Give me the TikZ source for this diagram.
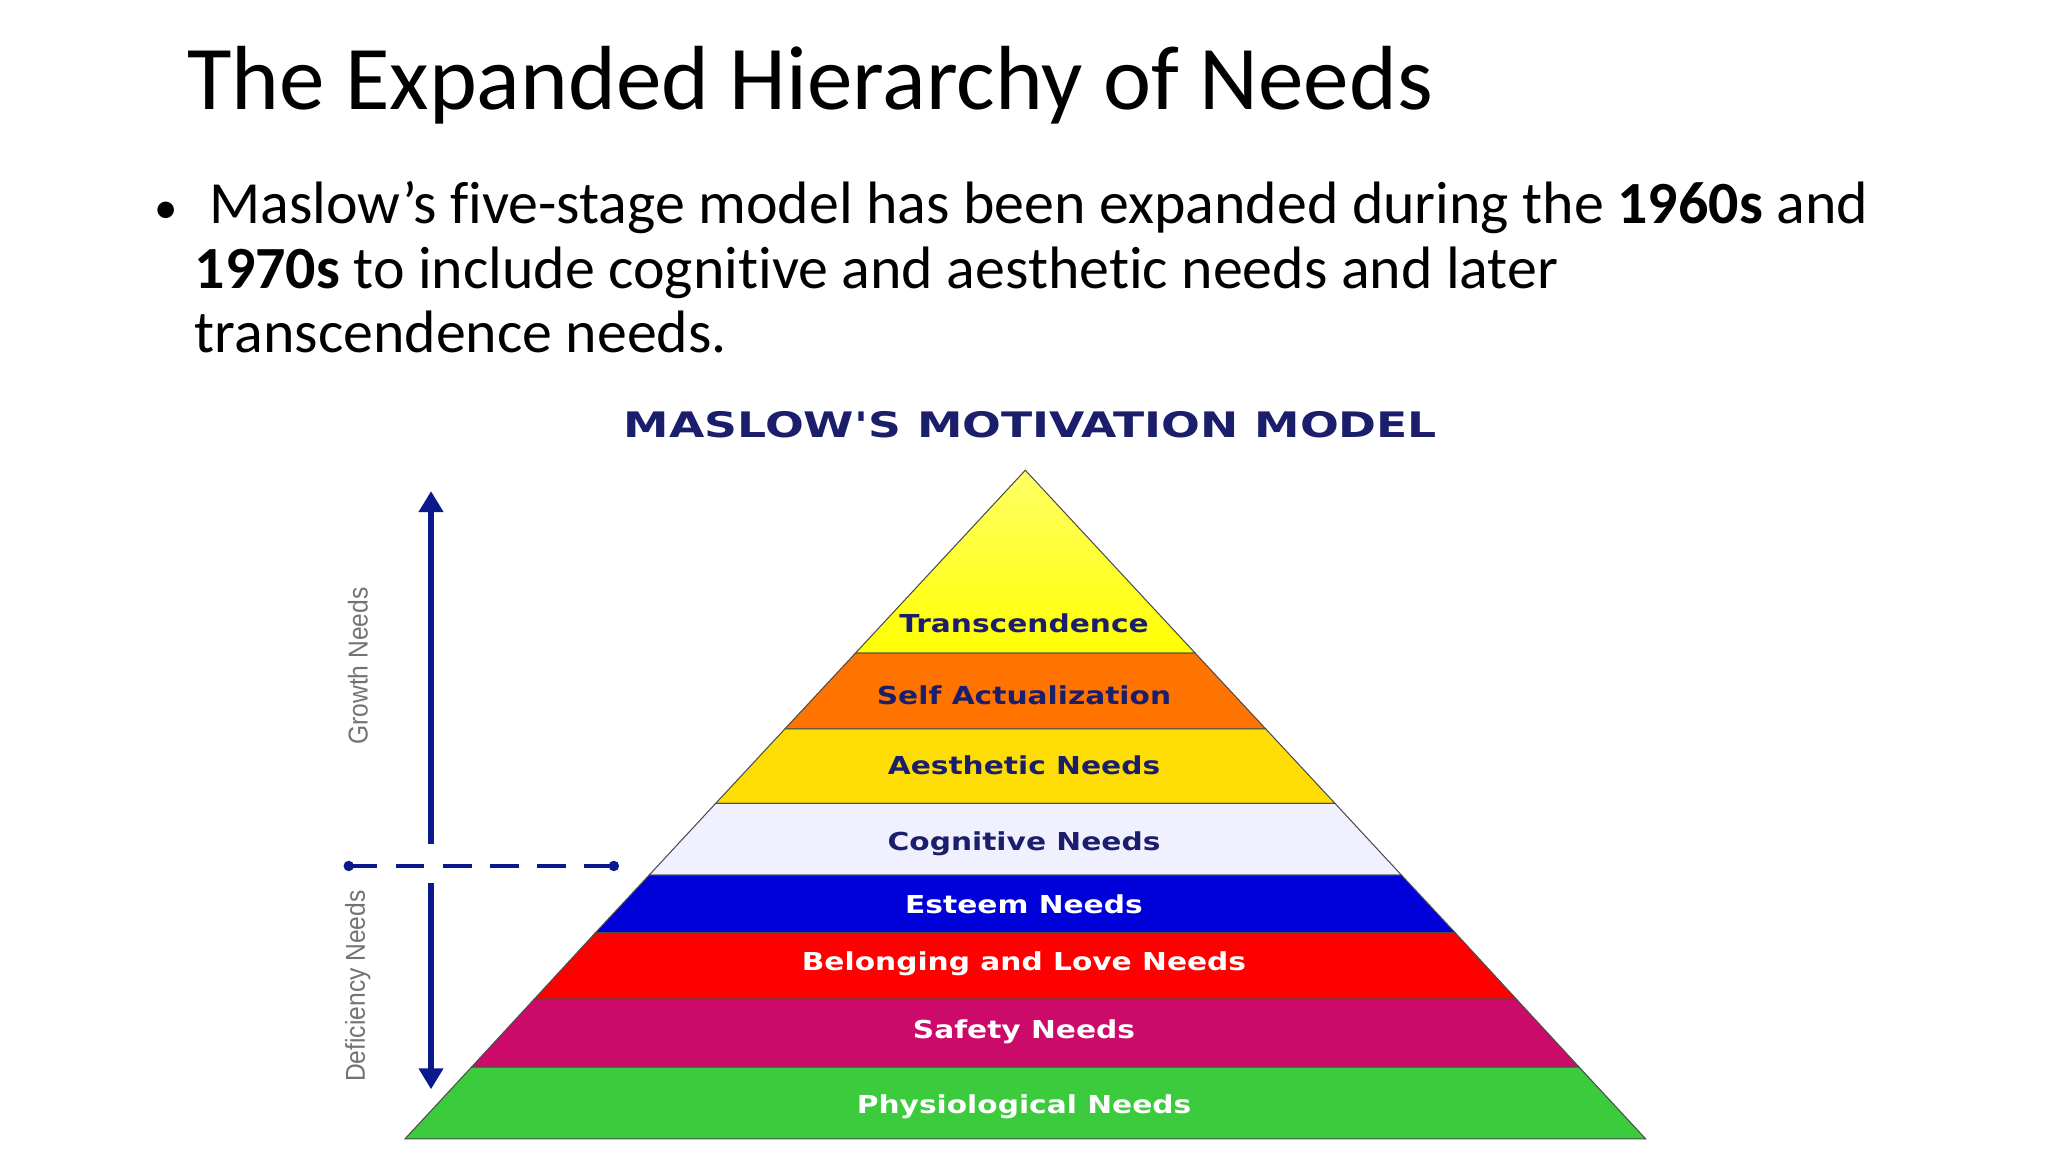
\documentclass[tikz,border=0pt]{standalone}
\usepackage{fontspec}
\setmainfont{Carlito}[Ligatures=NoCommon]
\newfontfamily\lab{DejaVu Sans}
\newfontfamily\gsans{Liberation Sans}
\usetikzlibrary{arrows.meta}
\definecolor{navy}{HTML}{1B1F6B}
\definecolor{arrowblue}{HTML}{0A1A8C}
\definecolor{safety}{HTML}{CC0A6A}
\definecolor{phys}{HTML}{3CCB3C}
\tikzset{
  layer/.style={draw=black!70,line width=0.8bp},
  darklab/.style={font=\lab\bfseries\fontsize{19}{22}\selectfont,text=navy,xscale=1.2},
  lightlab/.style={font=\lab\bfseries\fontsize{19}{22}\selectfont,text=white,xscale=1.2},
  body/.style={anchor=base west,inner sep=0,font=\fontsize{46}{55}\selectfont},
  side/.style={font=\gsans\fontsize{21}{25}\selectfont,text=black!55,rotate=90,xscale=0.9},
  bigarrow/.style={draw=arrowblue,line width=5bp,-{Triangle[width=18bp,length=16bp]}}
}
\begin{document}
\begin{tikzpicture}[x=1bp,y=-1bp]
\useasboundingbox (0,0) rectangle (1568,882);
\fill[white] (0,0) rectangle (1568,882);
\node[anchor=base west,inner sep=0,font=\fontsize{70}{84}\selectfont] (title) at (143,84) {The Expanded Hierarchy of Needs};
\node[body,font=\fontsize{36}{40}\selectfont] (bul) at (118,171) {\textbullet};
\node[body] (l1) at (160,171) {Maslow’s five-stage model has been expanded during the \textbf{1960s} and};
\node[body] (l2) at (149,221) {\textbf{1970s} to include cognitive and aesthetic needs and later};
\node[body] (l3) at (149,270) {transcendence needs.};
\node[font=\lab\bfseries\fontsize{27}{30}\selectfont,text=navy,xscale=1.3] (mm) at (789,325) {MASLOW'S MOTIVATION MODEL};
% layers
\path[layer,top color=yellow!60!white,bottom color=yellow] (785,360) -- (915,500) -- (655,500) -- cycle;
\path[layer,fill=orange!90!red] (655,500) -- (915,500) -- (969,558) -- (601,558) -- cycle;
\path[layer,fill=yellow!80!orange] (601,558) -- (969,558) -- (1022,615) -- (548,615) -- cycle;
\path[layer,fill=blue!6] (548,615) -- (1022,615) -- (1073,670) -- (497,670) -- cycle;
\path[layer,fill=blue!85!black] (497,670) -- (1073,670) -- (1114,714) -- (456,714) -- cycle;
\path[layer,fill=red] (456,714) -- (1114,714) -- (1161,765) -- (409,765) -- cycle;
\path[layer,fill=safety] (409,765) -- (1161,765) -- (1209,817) -- (361,817) -- cycle;
\path[layer,fill=phys] (361,817) -- (1209,817) -- (1260,872) -- (310,872) -- cycle;
\node[darklab] (t1) at (784,477) {Transcendence};
\node[darklab] (t2) at (784,532) {Self Actualization};
\node[darklab] (t3) at (784,586) {Aesthetic Needs};
\node[darklab] (t4) at (784,646) {Cognitive Needs};
\node[lightlab] (t5) at (784,692) {Esteem Needs};
\node[lightlab] (t6) at (784,738) {Belonging and Love Needs};
\node[lightlab] (t7) at (784,790) {Safety Needs};
\node[lightlab] (t8) at (784,847) {Physiological Needs};
% side arrows
\coordinate (g0) at (330,646);
\coordinate (g1) at (330,376);
\coordinate (d0) at (330,676);
\coordinate (d1) at (330,834);
\draw[bigarrow] (g0) -- (g1);
\draw[bigarrow] (d0) -- (d1);
\coordinate (da) at (267,663);
\coordinate (db) at (470,663);
\draw[arrowblue,line width=3bp,dash pattern=on 22bp off 14bp] (da) -- (db);
\fill[arrowblue] (da) circle (4bp) (db) circle (4bp);
\node[side] (gn) at (274,510) {Growth Needs};
\node[side] (dn) at (274,755) {Deficiency Needs};
\end{tikzpicture}
\end{document}
